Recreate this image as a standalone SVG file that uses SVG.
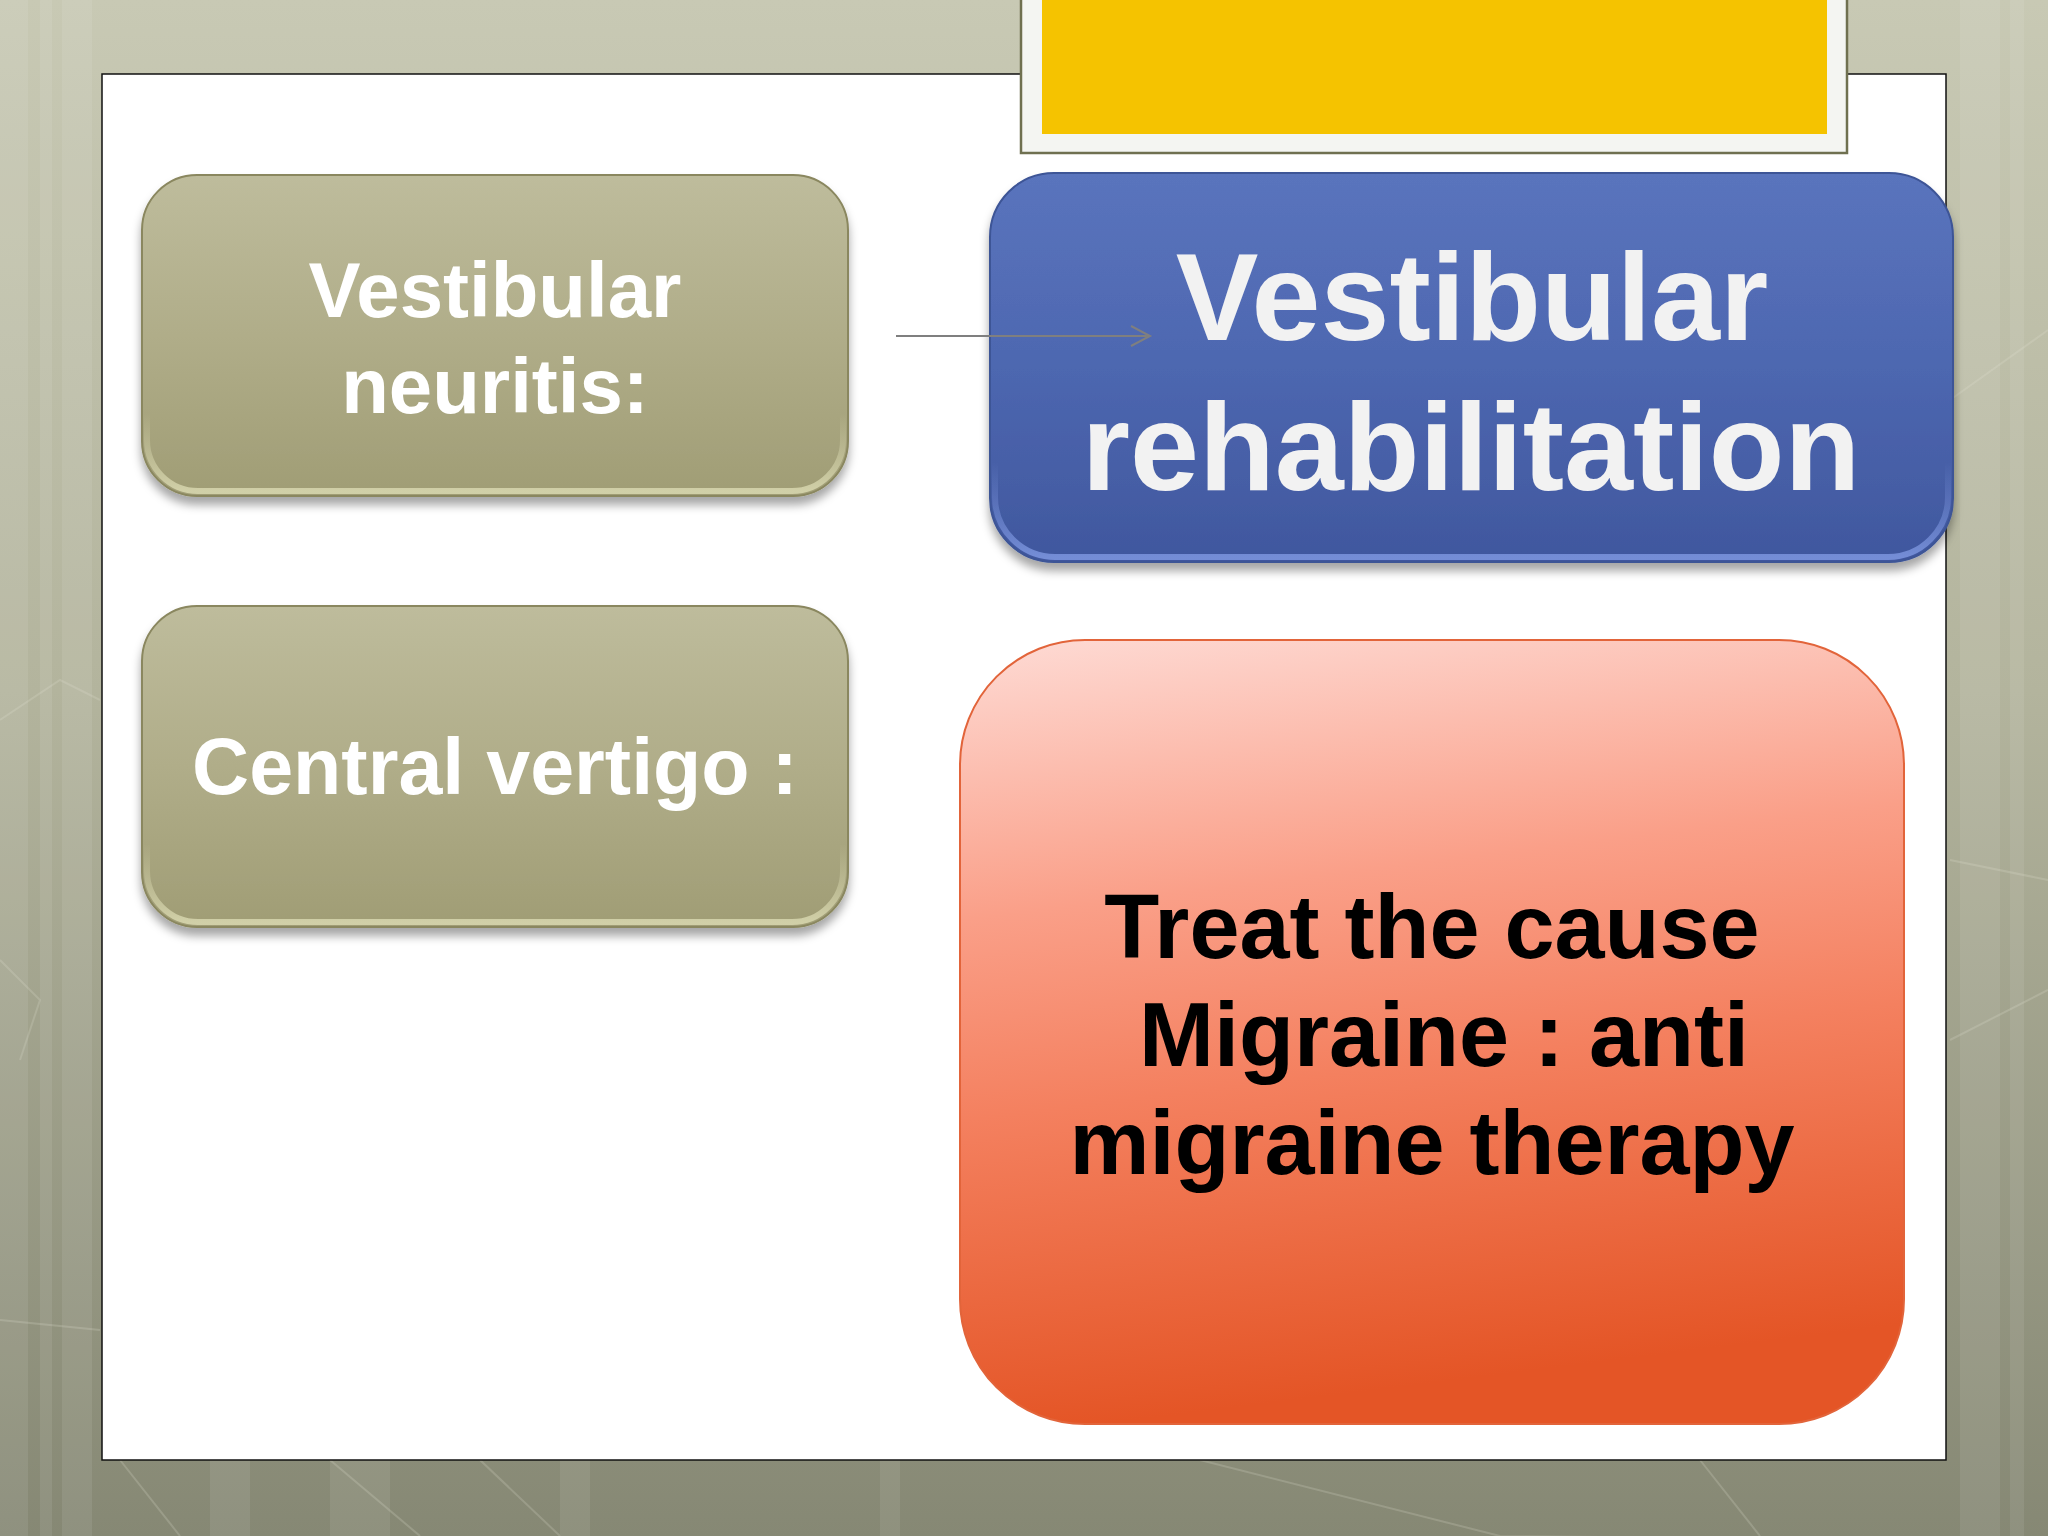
<svg xmlns="http://www.w3.org/2000/svg" width="2048" height="1536" viewBox="0 0 2048 1536">
<defs>
<linearGradient id="bg" x1="0" y1="0" x2="0" y2="1">
<stop offset="0" stop-color="#c8c9b4"/>
<stop offset="0.45" stop-color="#b3b49d"/>
<stop offset="1" stop-color="#868874"/>
</linearGradient>
<linearGradient id="olive" x1="0" y1="0" x2="0" y2="1">
<stop offset="0" stop-color="#bebc9c"/>
<stop offset="0.5" stop-color="#b0ad89"/>
<stop offset="1" stop-color="#a09d75"/>
</linearGradient>
<linearGradient id="blue" x1="0" y1="0" x2="0" y2="1">
<stop offset="0" stop-color="#5a74bd"/>
<stop offset="0.5" stop-color="#4d67b0"/>
<stop offset="1" stop-color="#40579e"/>
</linearGradient>
<linearGradient id="red" x1="0" y1="0" x2="0.15" y2="1">
<stop offset="0" stop-color="#fedbd5"/>
<stop offset="0.35" stop-color="#fa9f88"/>
<stop offset="0.6" stop-color="#f4805f"/>
<stop offset="1" stop-color="#e45526"/>
</linearGradient>
<linearGradient id="rimo" x1="0" y1="0" x2="0" y2="1">
<stop offset="0" stop-color="#d6d5ad" stop-opacity="0"/>
<stop offset="0.75" stop-color="#d6d5ad" stop-opacity="0"/>
<stop offset="1" stop-color="#d6d5ad" stop-opacity="0.9"/>
</linearGradient>
<linearGradient id="rimb" x1="0" y1="0" x2="0" y2="1">
<stop offset="0" stop-color="#7a93dc" stop-opacity="0"/>
<stop offset="0.75" stop-color="#7a93dc" stop-opacity="0"/>
<stop offset="1" stop-color="#7a93dc" stop-opacity="0.9"/>
</linearGradient>
<filter id="shadow" x="-5%" y="-5%" width="110%" height="120%">
<feDropShadow dx="0" dy="8" stdDeviation="5" flood-color="#000" flood-opacity="0.35"/>
</filter>
<marker id="arrow" markerWidth="24" markerHeight="24" refX="21" refY="12" orient="auto" markerUnits="userSpaceOnUse">
<path d="M2,2 L21,12 L2,22" fill="none" stroke="#7f7f7f" stroke-width="2"/>
</marker>
</defs>
<style>
.t{font-family:"Liberation Sans",Arial,sans-serif;font-weight:bold;text-anchor:middle}
.ol{fill:url(#olive);stroke:#8a875f;stroke-width:2;filter:url(#shadow)}
.rimo{fill:none;stroke:url(#rimo);stroke-width:6}
.rimb{fill:none;stroke:url(#rimb);stroke-width:6}
</style>
<rect x="0" y="0" width="2048" height="1536" fill="url(#bg)"/>
<g opacity="0.08" fill="#ffffff">
<rect x="0" y="0" width="28" height="1536"/>
<rect x="40" y="0" width="12" height="1536"/>
<rect x="62" y="0" width="30" height="1536"/>
<rect x="210" y="1460" width="40" height="76"/>
<rect x="330" y="1460" width="60" height="76"/>
<rect x="560" y="1460" width="30" height="76"/>
<rect x="880" y="1460" width="20" height="76"/>
<rect x="1960" y="0" width="40" height="1536"/>
<rect x="2010" y="0" width="14" height="1536"/>
</g>
<g opacity="0.2" fill="none" stroke="#e8e8d8" stroke-width="2">
<path d="M0,720 L60,680 L100,700"/>
<path d="M0,1320 L100,1330"/>
<path d="M0,960 L40,1000 L20,1060"/>
<path d="M1950,1040 L2048,990"/>
<path d="M1950,860 L2048,880"/>
<path d="M1950,400 L2048,330"/>
<path d="M120,1460 L180,1536"/>
<path d="M330,1460 L420,1536"/>
<path d="M480,1460 L560,1536"/>
<path d="M1200,1460 L1500,1536 L1900,1540"/>
<path d="M1700,1460 L1760,1536"/>
</g>
<g id="panel">
<rect x="102" y="74" width="1844" height="1386" fill="#ffffff" stroke="#111111" stroke-width="1.5"/>
</g>
<g id="title-box">
<rect x="1021" y="-10" width="826" height="163" fill="#f4f5f2" stroke="#6f7050" stroke-width="2.5"/>
<rect x="1042" y="0" width="785" height="134" fill="#f5c300"/>
</g>
<g id="node-neuritis">
<rect class="ol" x="142" y="175" width="706" height="321" rx="55" ry="55"/>
<rect class="rimo" x="147" y="180" width="696" height="311" rx="51" ry="51"/>
<text class="t" x="495" y="317" font-size="78" fill="#ffffff">Vestibular</text>
<text class="t" x="495" y="413" font-size="78" fill="#ffffff">neuritis:</text>
</g>
<g id="node-central">
<rect class="ol" x="142" y="606" width="706" height="321" rx="55" ry="55"/>
<rect class="rimo" x="147" y="611" width="696" height="311" rx="51" ry="51"/>
<text class="t" x="495" y="794" font-size="79" fill="#ffffff">Central vertigo :</text>
</g>
<g id="node-rehab">
<rect x="990" y="173" width="963" height="389" rx="64" ry="64" fill="url(#blue)" stroke="#3d5496" stroke-width="2" filter="url(#shadow)"/>
<rect class="rimb" x="995" y="178" width="953" height="379" rx="60" ry="60"/>
<text class="t" x="1472" y="340" font-size="124" fill="#f2f2f2">Vestibular</text>
<text class="t" x="1471" y="490" font-size="124" fill="#f2f2f2">rehabilitation</text>
</g>
<g id="node-treat">
<rect x="960" y="640" width="944" height="784" rx="125" ry="125" fill="url(#red)" stroke="#e2643a" stroke-width="2"/>
<text class="t" x="1432" y="958" font-size="90" fill="#000000">Treat the cause</text>
<text class="t" x="1444" y="1066" font-size="90" fill="#000000">Migraine : anti</text>
<text class="t" x="1432" y="1174" font-size="90" fill="#000000">migraine therapy</text>
</g>
<g id="connectors">
<line x1="896" y1="336" x2="1150" y2="336" stroke="#7f7f7f" stroke-width="2" marker-end="url(#arrow)"/>
</g>
</svg>
